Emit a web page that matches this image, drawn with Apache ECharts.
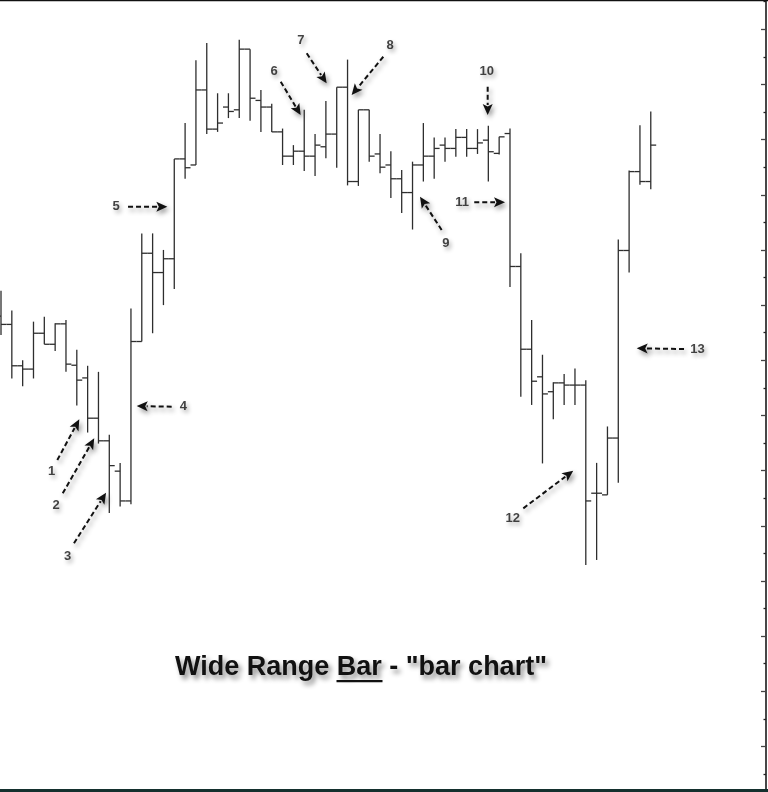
<!DOCTYPE html>
<html>
<head>
<meta charset="utf-8">
<script src="https://cdn.jsdelivr.net/npm/echarts@6/dist/echarts.min.js"></script>
<style>
  html, body { margin: 0; padding: 0; background: #ffffff; }
  #chart { width: 768px; height: 792px; }
</style>
</head>
<body>
<div id="chart"></div>
<script>
// ---- OHLC data (bar index 0..60) ----
const opens  = [88, 86.5, 79.0, 78.4, 84.9, 82.9, 86.6, 79.1, 76.8, 69.5, 65.4, 59.9, 54.5, 83.4, 99.4, 95.9, 98.4, 116.5, 115.4, 129.0, 121.9, 125.9, 125.4, 136.4, 127.1, 125.9, 121.4, 117.0, 117.9, 117.0, 118.7, 121.0, 129.5, 112.4, 125.4, 117.4, 115.4, 112.9, 110.4, 115.4, 117.0, 119.0, 118.4, 120.4, 118.4, 119.9, 117.5, 121.1, 97.0, 82.0, 77.0, 74.3, 75.9, 75.5, 75.5, 55.9, 55.6, 65.9, 99.9, 114.2, 112.4];
const highs  = [92.6, 89.0, 80.0, 87.0, 87.9, 86.7, 87.3, 81.9, 79.0, 77.9, 66.5, 61.4, 89.4, 103.0, 103.0, 100.0, 116.5, 123.0, 134.4, 137.5, 128.4, 128.4, 138.1, 136.4, 129.0, 126.5, 122.0, 119.0, 125.4, 121.0, 127.0, 129.5, 134.5, 125.4, 125.4, 121.0, 117.9, 114.5, 116.0, 123.0, 120.4, 120.4, 121.9, 121.9, 121.9, 122.5, 120.5, 122.0, 99.4, 87.3, 81.0, 76.0, 77.5, 78.5, 76.4, 61.4, 68.0, 101.9, 114.4, 122.6, 125.1];
const lows   = [84.6, 76.7, 75.3, 76.7, 82.9, 81.7, 77.9, 71.8, 66.9, 64.9, 52.3, 53.5, 53.9, 83.4, 84.9, 90.0, 92.9, 112.9, 115.4, 121.0, 121.4, 123.9, 123.9, 123.4, 121.4, 121.4, 115.4, 115.4, 114.3, 113.4, 116.6, 114.9, 111.7, 111.6, 116.0, 113.9, 109.4, 106.7, 103.7, 112.4, 112.9, 116.0, 116.9, 116.9, 117.4, 112.4, 117.3, 93.3, 73.4, 71.9, 61.3, 69.3, 71.9, 71.9, 42.9, 43.8, 55.6, 57.8, 95.9, 111.8, 111.0];
const closes = [86.5, 79.0, 78.4, 84.9, 82.9, 86.6, 79.3, 76.4, 69.5, 65.4, 60.9, 54.5, 83.4, 99.4, 95.9, 98.4, 116.5, 114.9, 129.0, 121.9, 123.0, 125.1, 136.4, 127.5, 125.9, 121.4, 117.0, 117.9, 117.0, 119.0, 121.0, 129.5, 112.4, 125.4, 117.0, 115.0, 112.9, 110.4, 115.4, 117.0, 118.4, 118.4, 120.4, 118.4, 119.4, 117.8, 120.5, 97.0, 82.0, 76.2, 73.9, 75.9, 75.5, 75.5, 54.5, 55.9, 65.9, 99.9, 114.2, 112.4, 119.0];

// ---- Annotations (data coordinates: [bar index, price]) ----
const noteLabels = ['1','2','3','4','5','6','7','8','9','10','11','12','13'];
const notePos   = [[4.68,59.8],[5.08,53.76],[6.16,44.52],[16.83,71.58],[10.62,107.96],[25.21,132.3],[27.7,138.05],[35.92,137.14],[41.09,101.2],[44.85,132.3],[42.59,108.63],[47.25,51.35],[64.31,81.98]];
const arrowFrom = [[5.2,61.92],[5.7,55.88],[6.74,46.82],[15.76,71.58],[11.73,107.83],[25.83,130.49],[28.23,135.64],[35.3,135.02],[40.69,103.61],[44.94,129.58],[43.7,108.63],[48.23,53.16],[63.07,82.04]];
const arrowTo   = [[7.23,69.29],[8.61,65.85],[9.7,55.99],[12.53,71.71],[15.36,107.83],[27.67,124.45],[30.07,130.2],[32.38,128.08],[38.69,109.64],[44.94,124.45],[46.54,108.63],[52.84,59.98],[58.7,82.17]];

const titleText = 'Wide Range Bar - "bar chart"';

const ohlc = opens.map((o, i) => [i, o, highs[i], lows[i], closes[i]]);
const notes = noteLabels.map((t, i) => ({ name: t, value: notePos[i] }));
const arrowData = arrowFrom.map((f, i) => [f[0], f[1], arrowTo[i][0], arrowTo[i][1]]);

const BAR_COLOR = '#2e2e2e';

function renderBar(params, api) {
  const i = api.value(0);
  const pO = api.coord([i, api.value(1)]);
  const pH = api.coord([i, api.value(2)]);
  const pL = api.coord([i, api.value(3)]);
  const pC = api.coord([i, api.value(4)]);
  const hw = api.size([1, 0])[0] * 0.5;
  const st = { stroke: BAR_COLOR, lineWidth: 1.3 };
  return {
    type: 'group',
    children: [
      { type: 'line', shape: { x1: pH[0], y1: pH[1], x2: pL[0], y2: pL[1] }, style: st },
      { type: 'line', shape: { x1: pO[0] - hw, y1: pO[1], x2: pO[0], y2: pO[1] }, style: st },
      { type: 'line', shape: { x1: pC[0], y1: pC[1], x2: pC[0] + hw, y2: pC[1] }, style: st }
    ]
  };
}

function renderArrow(params, api) {
  const p1 = api.coord([api.value(0), api.value(1)]);
  const p2 = api.coord([api.value(2), api.value(3)]);
  const dx = p2[0] - p1[0], dy = p2[1] - p1[1];
  const len = Math.sqrt(dx * dx + dy * dy) || 1;
  const ux = dx / len, uy = dy / len;
  const headLen = 11, headW = 5;
  const bx = p2[0] - ux * headLen, by = p2[1] - uy * headLen;
  const shadow = { shadowColor: 'rgba(0,0,0,0.45)', shadowBlur: 5, shadowOffsetX: 2, shadowOffsetY: 3 };
  return {
    type: 'group',
    children: [
      {
        type: 'line',
        shape: { x1: p1[0], y1: p1[1], x2: bx + ux * 1, y2: by + uy * 1 },
        style: Object.assign({ stroke: '#111', lineWidth: 2, lineDash: [5, 3] }, shadow)
      },
      {
        type: 'polygon',
        shape: { points: [
          [p2[0], p2[1]],
          [bx - uy * headW, by + ux * headW],
          [bx + ux * 2.5, by + uy * 2.5],
          [bx + uy * headW, by - ux * headW]
        ] },
        style: Object.assign({ fill: '#111' }, shadow)
      }
    ]
  };
}

const chart = echarts.init(document.getElementById('chart'), null, { renderer: 'canvas' });
chart.setOption({
  animation: false,
  backgroundColor: '#ffffff',
  title: {
    text: titleText,
    left: 175,
    top: 654,
    padding: 0,
    textStyle: {
      fontFamily: 'Liberation Sans, Arial, sans-serif',
      fontSize: 27,
      fontWeight: 'bold',
      color: '#111111',
      textShadowColor: 'rgba(0,0,0,0.45)',
      textShadowBlur: 5,
      textShadowOffsetX: 3,
      textShadowOffsetY: 4
    }
  },
  grid: {
    left: 0,
    right: 2,
    top: -25.9,
    bottom: -9.6,
    outerBoundsMode: 'none',
    containLabel: false
  },
  xAxis: {
    type: 'value',
    min: -0.0923,
    max: 70.64,
    show: false,
    splitLine: { show: false }
  },
  yAxis: {
    type: 'value',
    position: 'right',
    min: 0,
    max: 150,
    interval: 10,
    axisLine: { show: true, onZero: false, lineStyle: { color: '#1a1a1a', width: 1.6 } },
    axisTick: { show: true, inside: true, length: 5, lineStyle: { color: '#444', width: 1.3 } },
    minorTick: { show: true, splitNumber: 2, length: 2.5, lineStyle: { color: '#222', width: 1.3 } },
    axisLabel: { show: false },
    splitLine: { show: false }
  },
  graphic: [
    { type: 'line', silent: true, z: 100, shape: { x1: 0, y1: 0.6, x2: 768, y2: 0.6 }, style: { stroke: '#111', lineWidth: 1.4 } },
    { type: 'line', silent: true, z: 100, shape: { x1: 0, y1: 790.5, x2: 768, y2: 790.5 }, style: { stroke: '#14302e', lineWidth: 3 } },
    { type: 'rect', silent: true, z: 100, shape: { x: 336.5, y: 680, width: 46, height: 2.2 }, style: { fill: '#111' } }
  ],
  series: [
    {
      type: 'custom',
      name: 'ohlc',
      renderItem: renderBar,
      data: ohlc,
      encode: { x: 0, y: [2, 3] },
      clip: false,
      silent: true
    },
    {
      type: 'custom',
      name: 'arrows',
      renderItem: renderArrow,
      data: arrowData,
      encode: { x: [0, 2], y: [1, 3] },
      clip: false,
      silent: true
    },
    {
      type: 'scatter',
      name: 'notes',
      symbolSize: 0,
      silent: true,
      data: notes,
      label: {
        show: true,
        position: 'inside',
        formatter: '{b}',
        fontFamily: 'Liberation Sans, Arial, sans-serif',
        fontSize: 13,
        fontWeight: 'bold',
        color: '#151515',
        textShadowColor: 'rgba(0,0,0,0.4)',
        textShadowBlur: 4,
        textShadowOffsetX: 2,
        textShadowOffsetY: 3
      }
    }
  ]
});
</script>
</body>
</html>
